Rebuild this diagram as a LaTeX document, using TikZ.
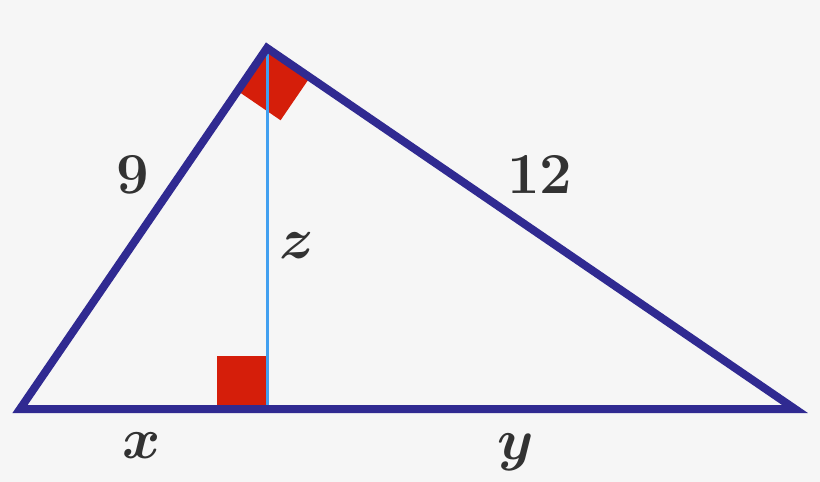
\documentclass[tikz,border=0pt]{standalone}
\usepackage{amsmath}
\usepackage{graphicx}
\usepackage{tikz}
\usetikzlibrary{calc}
\definecolor{sidenavy}{RGB}{48, 42, 145}
\definecolor{heightblue}{RGB}{66, 160, 240}
\definecolor{anglered}{RGB}{213, 30, 10}
\definecolor{labelgray}{RGB}{50, 50, 50}
\definecolor{paper}{RGB}{246, 246, 246}
\newcommand{\biglbl}[1]{\scalebox{2.33}{\Huge$\boldsymbol{#1}$}}

\begin{document}
\begin{tikzpicture}[
        x=1pt, y=-1pt,
        side/.style={draw=sidenavy, line width=8pt, line join=miter},
        altitude/.style={draw=heightblue, line width=3pt},
        rightmark/.style={fill=anglered},
        label/.style={text=labelgray, inner sep=0pt, anchor=base}
    ]
    
    % Background and frame
    \fill[paper] (0, 0) rectangle (820, 482);
    \useasboundingbox (0, 0) rectangle (820, 482);
    
    % Vertices
    \coordinate (left) at (20, 409);
    \coordinate (apex) at (267, 48);
    \coordinate (right) at (795, 409);
    \coordinate (foot) at (267, 409);
    
    % Right angle marks
    \fill[rightmark] (217, 356) rectangle (foot);
    \fill[rightmark] (apex) -- ($(apex)!52pt!(left)$) -- ($($(apex)!52pt!(left)$)+($(apex)!52pt!(right)$)-(apex)$) -- ($(apex)!52pt!(right)$) -- cycle;
    
    % Altitude
    \draw[altitude] (apex) -- (foot);
    
    % Triangle
    \draw[side] (left) -- (apex) -- (right) -- cycle;
    
    % Labels
    \node[label] (nine) at (133, 193) {\biglbl{9}};
    \node[label] (twelve) at (540, 193) {\biglbl{12}};
    \node[label] (zed) at (297, 258) {\biglbl{z}};
    \node[label] (ex) at (142, 458) {\biglbl{x}};
    \node[label] (why) at (516, 459) {\biglbl{y}};
    
    \end{tikzpicture}
\end{document}
